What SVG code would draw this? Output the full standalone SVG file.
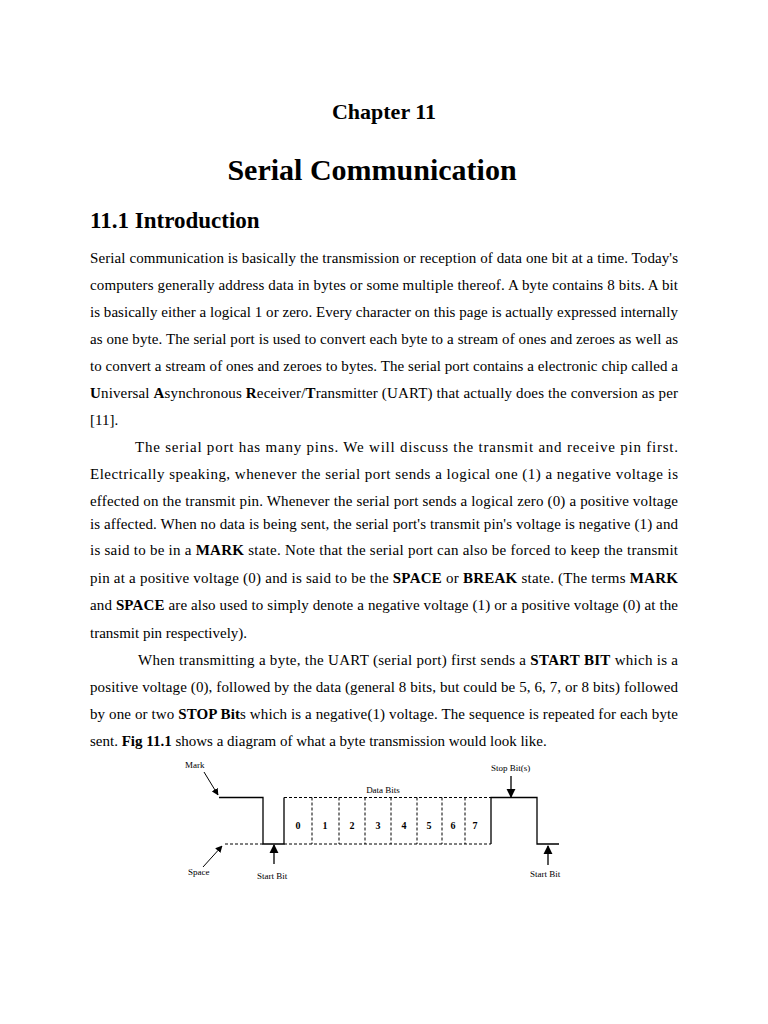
<svg xmlns="http://www.w3.org/2000/svg" width="768" height="1024" viewBox="0 0 768 1024">
<style>
text{font-family:"Liberation Serif","Times New Roman",serif;fill:#000}
.b{font-size:15px}
.h{font-weight:bold}
.s{font-size:9px}
.ln{stroke:#000;stroke-width:1.3;fill:none}
.d{stroke:#000;stroke-width:1;stroke-dasharray:3,2;fill:none}
</style>
<defs><marker id="a" viewBox="0 0 10 10" refX="9" refY="5" markerWidth="7" markerHeight="7" orient="auto"><path d="M0,0L10,5L0,10z" fill="#000"/></marker></defs>
<rect width="768" height="1024" fill="#fff"/>
<text x="384" y="119" text-anchor="middle" class="h" font-size="22">Chapter 11</text>
<text x="372" y="180" text-anchor="middle" class="h" font-size="30">Serial Communication</text>
<text x="90" y="228" class="h" font-size="23">11.1 Introduction</text>
<g class="b">
<text x="90" y="263" class="b" textLength="588" lengthAdjust="spacing">Serial communication is basically the transmission or reception of data one bit at a time. Today's</text>
<text x="90" y="290" class="b" textLength="588" lengthAdjust="spacing">computers generally address data in bytes or some multiple thereof. A byte contains 8 bits. A bit</text>
<text x="90" y="317" class="b" textLength="588" lengthAdjust="spacing">is basically either a logical 1 or zero. Every character on this page is actually expressed internally</text>
<text x="90" y="344" class="b" textLength="588" lengthAdjust="spacing">as one byte. The serial port is used to convert each byte to a stream of ones and zeroes as well as</text>
<text x="90" y="371" class="b" textLength="588" lengthAdjust="spacing">to convert a stream of ones and zeroes to bytes. The serial port contains a electronic chip called a</text>
<text x="90" y="398" class="b" textLength="588" lengthAdjust="spacing"><tspan class="h">U</tspan>niversal <tspan class="h">A</tspan>synchronous <tspan class="h">R</tspan>eceiver/<tspan class="h">T</tspan>ransmitter (UART) that actually does the conversion as per</text>
<text x="90" y="425" class="b">[11].</text>
<text x="135" y="452" class="b" textLength="543" lengthAdjust="spacing">The serial port has many pins. We will discuss the transmit and receive pin first.</text>
<text x="90" y="479" class="b" textLength="588" lengthAdjust="spacing">Electrically speaking, whenever the serial port sends a logical one (1) a negative voltage is</text>
<text x="90" y="506" class="b" textLength="588" lengthAdjust="spacing">effected on the transmit pin. Whenever the serial port sends a logical zero (0) a positive voltage</text>
<text x="90" y="529" class="b" textLength="588" lengthAdjust="spacing">is affected. When no data is being sent, the serial port's transmit pin's voltage is negative (1) and</text>
<text x="90" y="555" class="b" textLength="588" lengthAdjust="spacing">is said to be in a <tspan class="h">MARK</tspan> state. Note that the serial port can also be forced to keep the transmit</text>
<text x="90" y="583" class="b" textLength="588" lengthAdjust="spacing">pin at a positive voltage (0) and is said to be the <tspan class="h">SPACE</tspan> or <tspan class="h">BREAK</tspan> state. (The terms <tspan class="h">MARK</tspan></text>
<text x="90" y="610" class="b" textLength="588" lengthAdjust="spacing">and <tspan class="h">SPACE</tspan> are also used to simply denote a negative voltage (1) or a positive voltage (0) at the</text>
<text x="90" y="638" class="b">transmit pin respectively).</text>
<text x="138" y="665" class="b" textLength="540" lengthAdjust="spacing">When transmitting a byte, the UART (serial port) first sends a <tspan class="h">START BIT</tspan> which is a</text>
<text x="90" y="692" class="b" textLength="588" lengthAdjust="spacing">positive voltage (0), followed by the data (general 8 bits, but could be 5, 6, 7, or 8 bits) followed</text>
<text x="90" y="719" class="b" textLength="588" lengthAdjust="spacing">by one or two <tspan class="h">STOP Bit</tspan>s which is a negative(1) voltage. The sequence is repeated for each byte</text>
<text x="90" y="746" class="b">sent. <tspan class="h">Fig 11.1</tspan> shows a diagram of what a byte transmission would look like.</text>
</g>
<g id="connectors">
<path class="ln" d="M219,797.5H263V844H284V797.5"/>
<path class="ln" d="M491,844V797.5H537V844H559"/>
<path class="d" d="M225,844H263M284,844H491M284,797.5H491"/>
<path class="d" d="M312,797.5V844M339,797.5V844M365,797.5V844M391,797.5V844M417,797.5V844M442,797.5V844M465,797.5V844"/>
<line x1="204" y1="772" x2="218" y2="795" stroke="#000" marker-end="url(#a)"/>
<line x1="203" y1="867" x2="222" y2="846" stroke="#000" marker-end="url(#a)"/>
<line x1="511" y1="776" x2="511" y2="797" stroke="#000" stroke-width="1.3" marker-end="url(#a)"/>
<line x1="274" y1="864" x2="274" y2="845" stroke="#000" stroke-width="1.3" marker-end="url(#a)"/>
<line x1="548" y1="865" x2="548" y2="846" stroke="#000" stroke-width="1.3" marker-end="url(#a)"/>
</g>
<g id="labels" class="s">
<text x="185" y="768" class="s">Mark</text>
<text x="491" y="771" class="s">Stop Bit(s)</text>
<text x="383" y="793" text-anchor="middle" class="s">Data Bits</text>
<text x="188" y="875" class="s">Space</text>
<text x="257" y="879" class="s">Start Bit</text>
<text x="530" y="877" class="s">Start Bit</text>
<g font-size="10" font-weight="bold" text-anchor="middle">
<text x="298" y="829">0</text><text x="325" y="829">1</text><text x="352" y="829">2</text><text x="378" y="829">3</text><text x="404" y="829">4</text><text x="429" y="829">5</text><text x="453" y="829">6</text><text x="475" y="829">7</text>
</g>
</g>
</svg>
